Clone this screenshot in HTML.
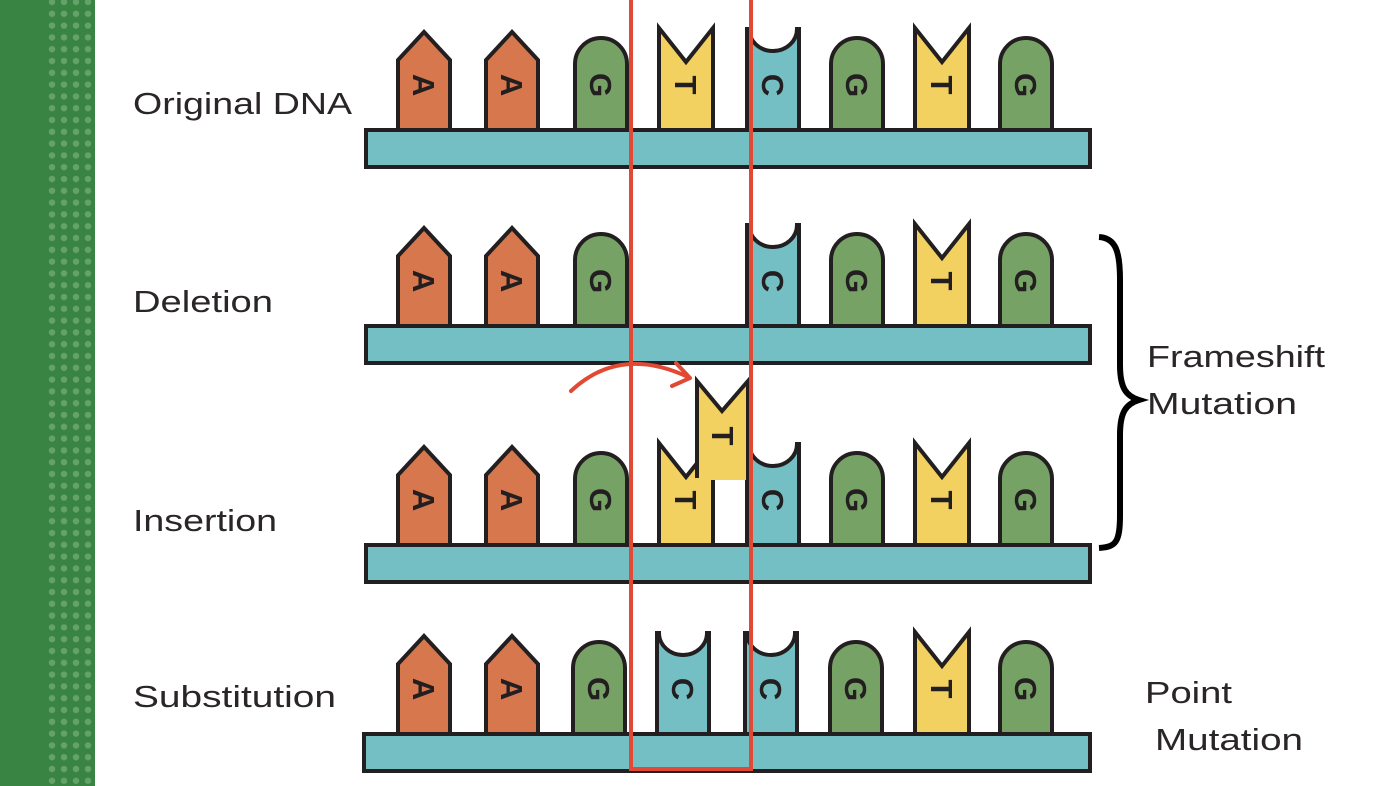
<!DOCTYPE html>
<html><head><meta charset="utf-8"><style>
html,body{margin:0;padding:0;background:#fff;width:1392px;height:786px;overflow:hidden}
svg{display:block}
.lbl{font-family:"Liberation Sans",sans-serif;font-size:31px;fill:#2a2526}
.nt{font-family:"Liberation Sans",sans-serif;font-size:31px;font-weight:bold;fill:#231f20}
</style></head><body>
<svg width="1392" height="786" viewBox="0 0 1392 786" xmlns="http://www.w3.org/2000/svg">
<defs>
<pattern id="dots" x="46" y="-4" width="12" height="11.8" patternUnits="userSpaceOnUse">
<circle cx="6" cy="6" r="3.2" fill="#64a269"/>
</pattern>
<path id="pA" d="M0,0 V-70 L26,-98 L52,-70 V0" fill="#d6774e" stroke="#231f20" stroke-width="4" stroke-linejoin="miter"/>
<path id="pG" d="M0,0 V-66 A26,26 0 0 1 52,-66 V0" fill="#76a365" stroke="#231f20" stroke-width="4"/>
<path id="pT" d="M0,0 V-102 L27,-68 L54,-102 V0" fill="#f2d161" stroke="#231f20" stroke-width="4"/>
<path id="pC" d="M0,0 V-101 L2,-101 A24,22 0 0 0 50,-101 L52,-101 V0" fill="#74bfc4" stroke="#231f20" stroke-width="4"/>
</defs>
<rect x="0" y="0" width="95" height="786" fill="#3a8443"/>
<rect x="46" y="0" width="49" height="786" fill="url(#dots)"/>

<text class="lbl" x="133" y="114" textLength="219" lengthAdjust="spacingAndGlyphs">Original DNA</text>
<text class="lbl" x="133" y="312" textLength="140" lengthAdjust="spacingAndGlyphs">Deletion</text>
<text class="lbl" x="133" y="531" textLength="144" lengthAdjust="spacingAndGlyphs">Insertion</text>
<text class="lbl" x="133" y="707" textLength="203" lengthAdjust="spacingAndGlyphs">Substitution</text>
<text class="lbl" x="1147" y="367" textLength="178" lengthAdjust="spacingAndGlyphs">Frameshift</text>
<text class="lbl" x="1147" y="414" textLength="150" lengthAdjust="spacingAndGlyphs">Mutation</text>
<text class="lbl" x="1145" y="703" textLength="87" lengthAdjust="spacingAndGlyphs">Point</text>
<text class="lbl" x="1155" y="750" textLength="148" lengthAdjust="spacingAndGlyphs">Mutation</text>

<g transform="translate(0,130)">
<use href="#pA" x="398"/><use href="#pA" x="486"/><use href="#pG" x="575"/><use href="#pT" x="659"/>
<use href="#pC" x="747"/><use href="#pG" x="831"/><use href="#pT" x="915"/><use href="#pG" x="1000"/>
<g class="nt" text-anchor="middle">
<text transform="translate(424,-45) rotate(90)" y="11">A</text>
<text transform="translate(512,-45) rotate(90)" y="11">A</text>
<text transform="translate(601,-45) rotate(90)" y="11">G</text>
<text transform="translate(686,-45) rotate(90)" y="11">T</text>
<text transform="translate(773,-45) rotate(90)" y="11">C</text>
<text transform="translate(857,-45) rotate(90)" y="11">G</text>
<text transform="translate(942,-45) rotate(90)" y="11">T</text>
<text transform="translate(1026,-45) rotate(90)" y="11">G</text>
</g>
<rect x="366" y="0" width="724" height="37" fill="#74bfc4" stroke="#231f20" stroke-width="4"/>
</g>

<g transform="translate(0,326)">
<use href="#pA" x="398"/><use href="#pA" x="486"/><use href="#pG" x="575"/>
<use href="#pC" x="747"/><use href="#pG" x="831"/><use href="#pT" x="915"/><use href="#pG" x="1000"/>
<g class="nt" text-anchor="middle">
<text transform="translate(424,-45) rotate(90)" y="11">A</text>
<text transform="translate(512,-45) rotate(90)" y="11">A</text>
<text transform="translate(601,-45) rotate(90)" y="11">G</text>
<text transform="translate(773,-45) rotate(90)" y="11">C</text>
<text transform="translate(857,-45) rotate(90)" y="11">G</text>
<text transform="translate(942,-45) rotate(90)" y="11">T</text>
<text transform="translate(1026,-45) rotate(90)" y="11">G</text>
</g>
<rect x="366" y="0" width="724" height="37" fill="#74bfc4" stroke="#231f20" stroke-width="4"/>
</g>

<g transform="translate(0,545)">
<use href="#pA" x="398"/><use href="#pA" x="486"/><use href="#pG" x="575"/><use href="#pT" x="659"/>
<use href="#pC" x="747"/><use href="#pG" x="831"/><use href="#pT" x="915"/><use href="#pG" x="1000"/>
<g class="nt" text-anchor="middle">
<text transform="translate(424,-45) rotate(90)" y="11">A</text>
<text transform="translate(512,-45) rotate(90)" y="11">A</text>
<text transform="translate(601,-45) rotate(90)" y="11">G</text>
<text transform="translate(686,-45) rotate(90)" y="11">T</text>
<text transform="translate(773,-45) rotate(90)" y="11">C</text>
<text transform="translate(857,-45) rotate(90)" y="11">G</text>
<text transform="translate(942,-45) rotate(90)" y="11">T</text>
<text transform="translate(1026,-45) rotate(90)" y="11">G</text>
</g>
<rect x="366" y="0" width="724" height="37" fill="#74bfc4" stroke="#231f20" stroke-width="4"/>
</g>
<path d="M697,478 V381 L722,411 L748,381 V478 Z" fill="#f2d161"/>
<path d="M697,478 V381 L722,411 L748,381 V478" fill="none" stroke="#231f20" stroke-width="4"/>
<rect x="699" y="476" width="47" height="4" fill="#f2d161"/>
<text class="nt" text-anchor="middle" transform="translate(723,436) rotate(90)" y="11">T</text>

<g transform="translate(0,734)">
<use href="#pA" x="398"/><use href="#pA" x="486"/><use href="#pG" x="573"/><use href="#pC" x="657"/>
<use href="#pC" x="745"/><use href="#pG" x="830"/><use href="#pT" x="915"/><use href="#pG" x="1000"/>
<g class="nt" text-anchor="middle">
<text transform="translate(424,-45) rotate(90)" y="11">A</text>
<text transform="translate(512,-45) rotate(90)" y="11">A</text>
<text transform="translate(599,-45) rotate(90)" y="11">G</text>
<text transform="translate(683,-45) rotate(90)" y="11">C</text>
<text transform="translate(771,-45) rotate(90)" y="11">C</text>
<text transform="translate(856,-45) rotate(90)" y="11">G</text>
<text transform="translate(942,-45) rotate(90)" y="11">T</text>
<text transform="translate(1026,-45) rotate(90)" y="11">G</text>
</g>
<rect x="364" y="0" width="726" height="37" fill="#74bfc4" stroke="#231f20" stroke-width="4"/>
</g>

<rect x="631" y="-4" width="120" height="773" fill="none" stroke="#e04a35" stroke-width="4"/>
<path d="M571,391 Q620,345 688,377" fill="none" stroke="#e04a35" stroke-width="4" stroke-linecap="round"/>
<path d="M676,363 L690,378 L672,386" fill="none" stroke="#e04a35" stroke-width="4" stroke-linecap="round" stroke-linejoin="round"/>

<path d="M1099,237 C1116,238 1120,252 1120,280 L1120,365 C1120,388 1126,396 1139,400 C1126,404 1120,412 1120,435 L1120,515 C1120,542 1116,547 1099,548" fill="none" stroke="#000" stroke-width="6"/>
</svg>
</body></html>
